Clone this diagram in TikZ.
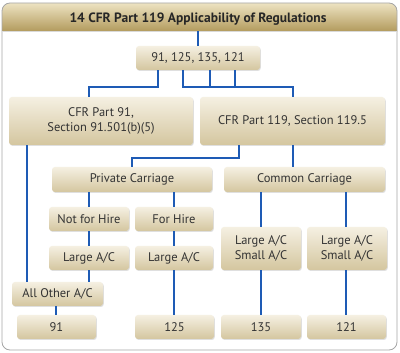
\documentclass[tikz,border=0pt]{standalone}
\usepackage{fontspec}
\setmainfont{PT Sans}
\usetikzlibrary{shadows}
\definecolor{lnblue}{HTML}{1E5BB5}
\definecolor{bxtop}{HTML}{F5F0E2}
\definecolor{bxbot}{HTML}{D4C69F}
\definecolor{bandtop}{HTML}{EDE3C2}
\definecolor{bandbot}{HTML}{B29A5C}
\definecolor{txt}{HTML}{333333}
\tikzset{
  bx/.style={rectangle, rounded corners=3pt, top color=bxtop, bottom color=bxbot,
    draw=none, inner sep=1pt, align=center, text=txt, font=\fontsize{12.5}{14.5}\selectfont,
    drop shadow={shadow xshift=0.8pt, shadow yshift=-1pt, opacity=0.25}},
  conn/.style={draw=lnblue, line width=2.6pt}
}
\begin{document}
\begin{tikzpicture}[x=1pt,y=-1pt]
\useasboundingbox (0,0) rectangle (400,353);
\fill[white, rounded corners=8pt] (2,3) rectangle (397,350);
\begin{scope}
\clip[rounded corners=8pt] (2,3) rectangle (397,350);
\shade[top color=bandtop, bottom color=bandbot] (2,3) rectangle (397,31.5);
\end{scope}
\draw[gray!70, line width=0.8pt, rounded corners=8pt] (2,3) rectangle (397,350);
\draw[white!85!black, line width=0.5pt] (2,31.5) -- (397,31.5);
\node[text=black!85, font=\bfseries\fontsize{13.5}{15}\selectfont] (title) at (198,19) {14 CFR Part 119 Applicability of Regulations};
\coordinate (tband) at (198,31.5);

\node[bx, minimum width=124pt, minimum height=24pt] (top) at (198,58) {91, 125, 135, 121};
\node[bx, minimum width=184pt, minimum height=48pt] (cfr91) at (101,121) {CFR Part 91,\\Section 91.501(b)(5)};
\node[bx, minimum width=185pt, minimum height=48pt] (cfr119) at (292.5,121) {CFR Part 119, Section 119.5};
\node[bx, minimum width=160pt, minimum height=25pt] (priv) at (132,179.5) {Private Carriage};
\node[bx, minimum width=161pt, minimum height=25pt] (comm) at (304.5,179.5) {Common Carriage};
\node[bx, minimum width=80pt, minimum height=24pt] (nfh) at (89,219) {Not for Hire};
\node[bx, minimum width=78pt, minimum height=24pt] (fh) at (174,219) {For Hire};
\node[bx, minimum width=80pt, minimum height=43pt] (lsa1) at (261,248.5) {Large A/C\\Small A/C};
\node[bx, minimum width=80pt, minimum height=43pt] (lsa2) at (347,248.5) {Large A/C\\Small A/C};
\node[bx, minimum width=80pt, minimum height=24pt] (la1) at (89,258) {Large A/C};
\node[bx, minimum width=78pt, minimum height=24pt] (la2) at (174,258) {Large A/C};
\node[bx, minimum width=91pt, minimum height=24pt] (aoa) at (57.5,294) {All Other A/C};
\node[bx, minimum width=79pt, minimum height=24pt] (b91) at (56.5,327) {91};
\node[bx, minimum width=79pt, minimum height=24pt] (b125) at (174.5,327) {125};
\node[bx, minimum width=80pt, minimum height=24pt] (b135) at (261,327) {135};
\node[bx, minimum width=79pt, minimum height=24pt] (b121) at (346.5,327) {121};

\draw[conn] (tband) -- (top.north);
\draw[conn] (158,0 |- top.south) |- (89,87) -- (89,0 |- cfr91.north);
\draw[conn] (183,0 |- top.south) |- (293,87) -- (293,0 |- cfr119.north);
\draw[conn] (210,0 |- top.south) -- (210,87);
\draw[conn] (235,0 |- top.south) -- (235,87);
\draw[conn] (239,0 |- cfr119.south) |- (132,158) -- (priv.north);
\draw[conn] (293,0 |- cfr119.south) -- (293,0 |- comm.north);
\draw[conn] (89,0 |- priv.south) -- (nfh.north);
\draw[conn] (174,0 |- priv.south) -- (fh.north);
\draw[conn] (261,0 |- comm.south) -- (lsa1.north);
\draw[conn] (346,0 |- comm.south) -- (346,0 |- lsa2.north);
\draw[conn] (nfh.south) -- (la1.north);
\draw[conn] (fh.south) -- (la2.north);
\draw[conn] (la1.south) -- (89,0 |- aoa.north);
\draw[conn] (27,0 |- cfr91.south) -- (27,0 |- aoa.north);
\draw[conn] (56,0 |- aoa.south) -- (56,0 |- b91.north);
\draw[conn] (la2.south) -- (174,0 |- b125.north);
\draw[conn] (lsa1.south) -- (b135.north);
\draw[conn] (346,0 |- lsa2.south) -- (346,0 |- b121.north);
\end{tikzpicture}
\end{document}
